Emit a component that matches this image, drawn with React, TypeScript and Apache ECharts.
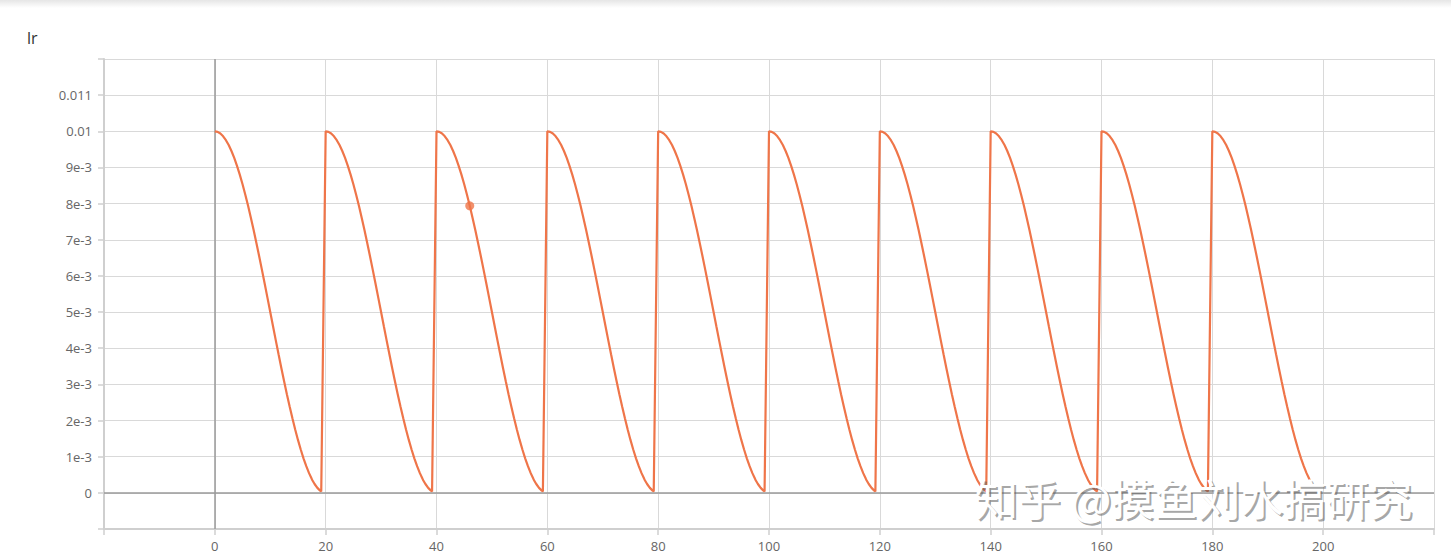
import React, { useEffect, useRef } from "react";
import * as echarts from "echarts";

// Restart epochs of each cosine cycle
const cycleStarts = [0, 20, 40, 60, 80, 100, 120, 140, 160, 180];
// Offset (epochs) within a cycle where the last logged point lies
const cycleEnds = [19.2, 19.2, 19.2, 19.2, 19.2, 19.2, 19.2, 19.2, 19.2, 17.6];
// Learning-rate profile read along one cycle: [offset, lr]
const cycleProfile: [number, number][] = [
  [0, 0.01], [0.5, 0.009985], [1, 0.009938], [1.5, 0.009862], [2, 0.009755],
  [2.5, 0.009619], [3, 0.009455], [3.5, 0.009263], [4, 0.009045], [4.5, 0.008802],
  [5, 0.008536], [5.5, 0.008247], [6, 0.007939], [6.5, 0.007612], [7, 0.00727],
  [7.5, 0.006913], [8, 0.006545], [8.5, 0.006167], [9, 0.005782], [9.5, 0.005392],
  [10, 0.005], [10.5, 0.004608], [11, 0.004218], [11.5, 0.003833], [12, 0.003455],
  [12.5, 0.003087], [13, 0.00273], [13.5, 0.002388], [14, 0.002061], [14.5, 0.001753],
  [15, 0.001464], [15.5, 0.001198], [16, 0.000955], [16.5, 0.000738], [17, 0.000545],
  [17.5, 0.000381], [17.6, 0.00035], [18, 0.000245], [18.5, 0.000138], [19, 0.000062],
  [19.2, 0.00004],
];
// Hovered point
const highlightPoint: [number, number] = [46, 0.00794];

const xTickLabels: Record<number, string> = {
  0: "0", 20: "20", 40: "40", 60: "60", 80: "80", 100: "100",
  120: "120", 140: "140", 160: "160", 180: "180", 200: "200",
};
const yTickLabels: Record<number, string> = {
  0: "0", 1: "1e-3", 2: "2e-3", 3: "3e-3", 4: "4e-3", 5: "5e-3",
  6: "6e-3", 7: "7e-3", 8: "8e-3", 9: "9e-3", 10: "0.01", 11: "0.011",
};

const seriesTitle = "lr";
const watermark = "知乎 @摸鱼刘水搞研究";

export default function App() {
  const ref = useRef<HTMLDivElement>(null);
  useEffect(() => {
    if (!ref.current) return;
    const chart = echarts.init(ref.current, null, { renderer: "svg" });
    const lineData: [number, number][] = [];
    cycleStarts.forEach((s, i) => {
      cycleProfile.forEach(([o, v]) => {
        if (o <= cycleEnds[i] + 1e-9) lineData.push([s + o, v]);
      });
    });
    const font = "'Open Sans', 'Noto Sans', sans-serif";
    const wmStyle = {
      text: watermark,
      fontSize: 43,
      fontFamily: "'Noto Sans CJK SC', sans-serif",
      verticalAlign: "middle",
      align: "left",
    };
    chart.setOption({
      animation: false,
      backgroundColor: "#fff",
      grid: { left: 104, right: 17, top: 59, bottom: 29 },
      title: {
        text: seriesTitle,
        left: 22,
        top: 25,
        textStyle: { fontSize: 16, fontWeight: "normal", color: "#333", fontFamily: font },
      },
      xAxis: {
        type: "value",
        min: -20,
        max: 220,
        interval: 20,
        axisLine: { show: true, onZero: false, lineStyle: { color: "#cfcfcf", width: 2 } },
        axisTick: { show: true, length: 6, lineStyle: { color: "#cfcfcf", width: 1.5 } },
        axisLabel: {
          color: "#666",
          fontSize: 13,
          fontFamily: font,
          margin: 10,
          formatter: (v: number) => xTickLabels[Math.round(v)] ?? "",
        },
        splitLine: { show: true, lineStyle: { color: "#d9d9d9", width: 1 } },
      },
      yAxis: {
        type: "value",
        min: -0.001,
        max: 0.012,
        interval: 0.001,
        axisLine: { show: true, onZero: false, lineStyle: { color: "#cfcfcf", width: 2 } },
        axisTick: { show: true, length: 6, lineStyle: { color: "#cfcfcf", width: 1.5 } },
        axisLabel: {
          color: "#666",
          fontSize: 13,
          fontFamily: font,
          margin: 12,
          formatter: (v: number) => yTickLabels[Math.round(v * 1000)] ?? "",
        },
        splitLine: { show: true, lineStyle: { color: "#d9d9d9", width: 1 } },
      },
      series: [
        {
          type: "line",
          data: lineData,
          showSymbol: false,
          smooth: false,
          lineStyle: { color: "#ef7549", width: 2.2 },
          itemStyle: { color: "#ef7549" },
          silent: true,
          markLine: {
            silent: true,
            symbol: "none",
            label: { show: false },
            lineStyle: { color: "#9a9a9a", width: 1.5, type: "solid" },
            data: [{ xAxis: 0 }, { yAxis: 0 }],
            z: 1,
          },
          z: 3,
        },
        {
          type: "scatter",
          data: [highlightPoint],
          symbolSize: 9,
          itemStyle: { color: "#ef7549" },
          z: 4,
        },
      ],
      graphic: [
        {
          type: "rect",
          x: 0,
          y: 0,
          shape: { x: 0, y: 0, width: 1451, height: 8 },
          style: {
            fill: new echarts.graphic.LinearGradient(0, 0, 0, 1, [
              { offset: 0, color: "rgba(0,0,0,0.10)" },
              { offset: 1, color: "rgba(0,0,0,0)" },
            ]),
          },
          silent: true,
        },
        {
          type: "text",
          x: 977,
          y: 499,
          z: 99,
          style: { ...wmStyle, fill: "rgba(90,90,90,0.55)" },
          silent: true,
        },
        {
          type: "text",
          x: 975,
          y: 497,
          z: 100,
          style: { ...wmStyle, fill: "#ffffff" },
          silent: true,
        },
      ],
    });
    return () => chart.dispose();
  }, []);
  return (
    <div
      ref={ref}
      style={{ position: "absolute", left: 0, top: 0, width: 1451, height: 558 }}
    />
  );
}
